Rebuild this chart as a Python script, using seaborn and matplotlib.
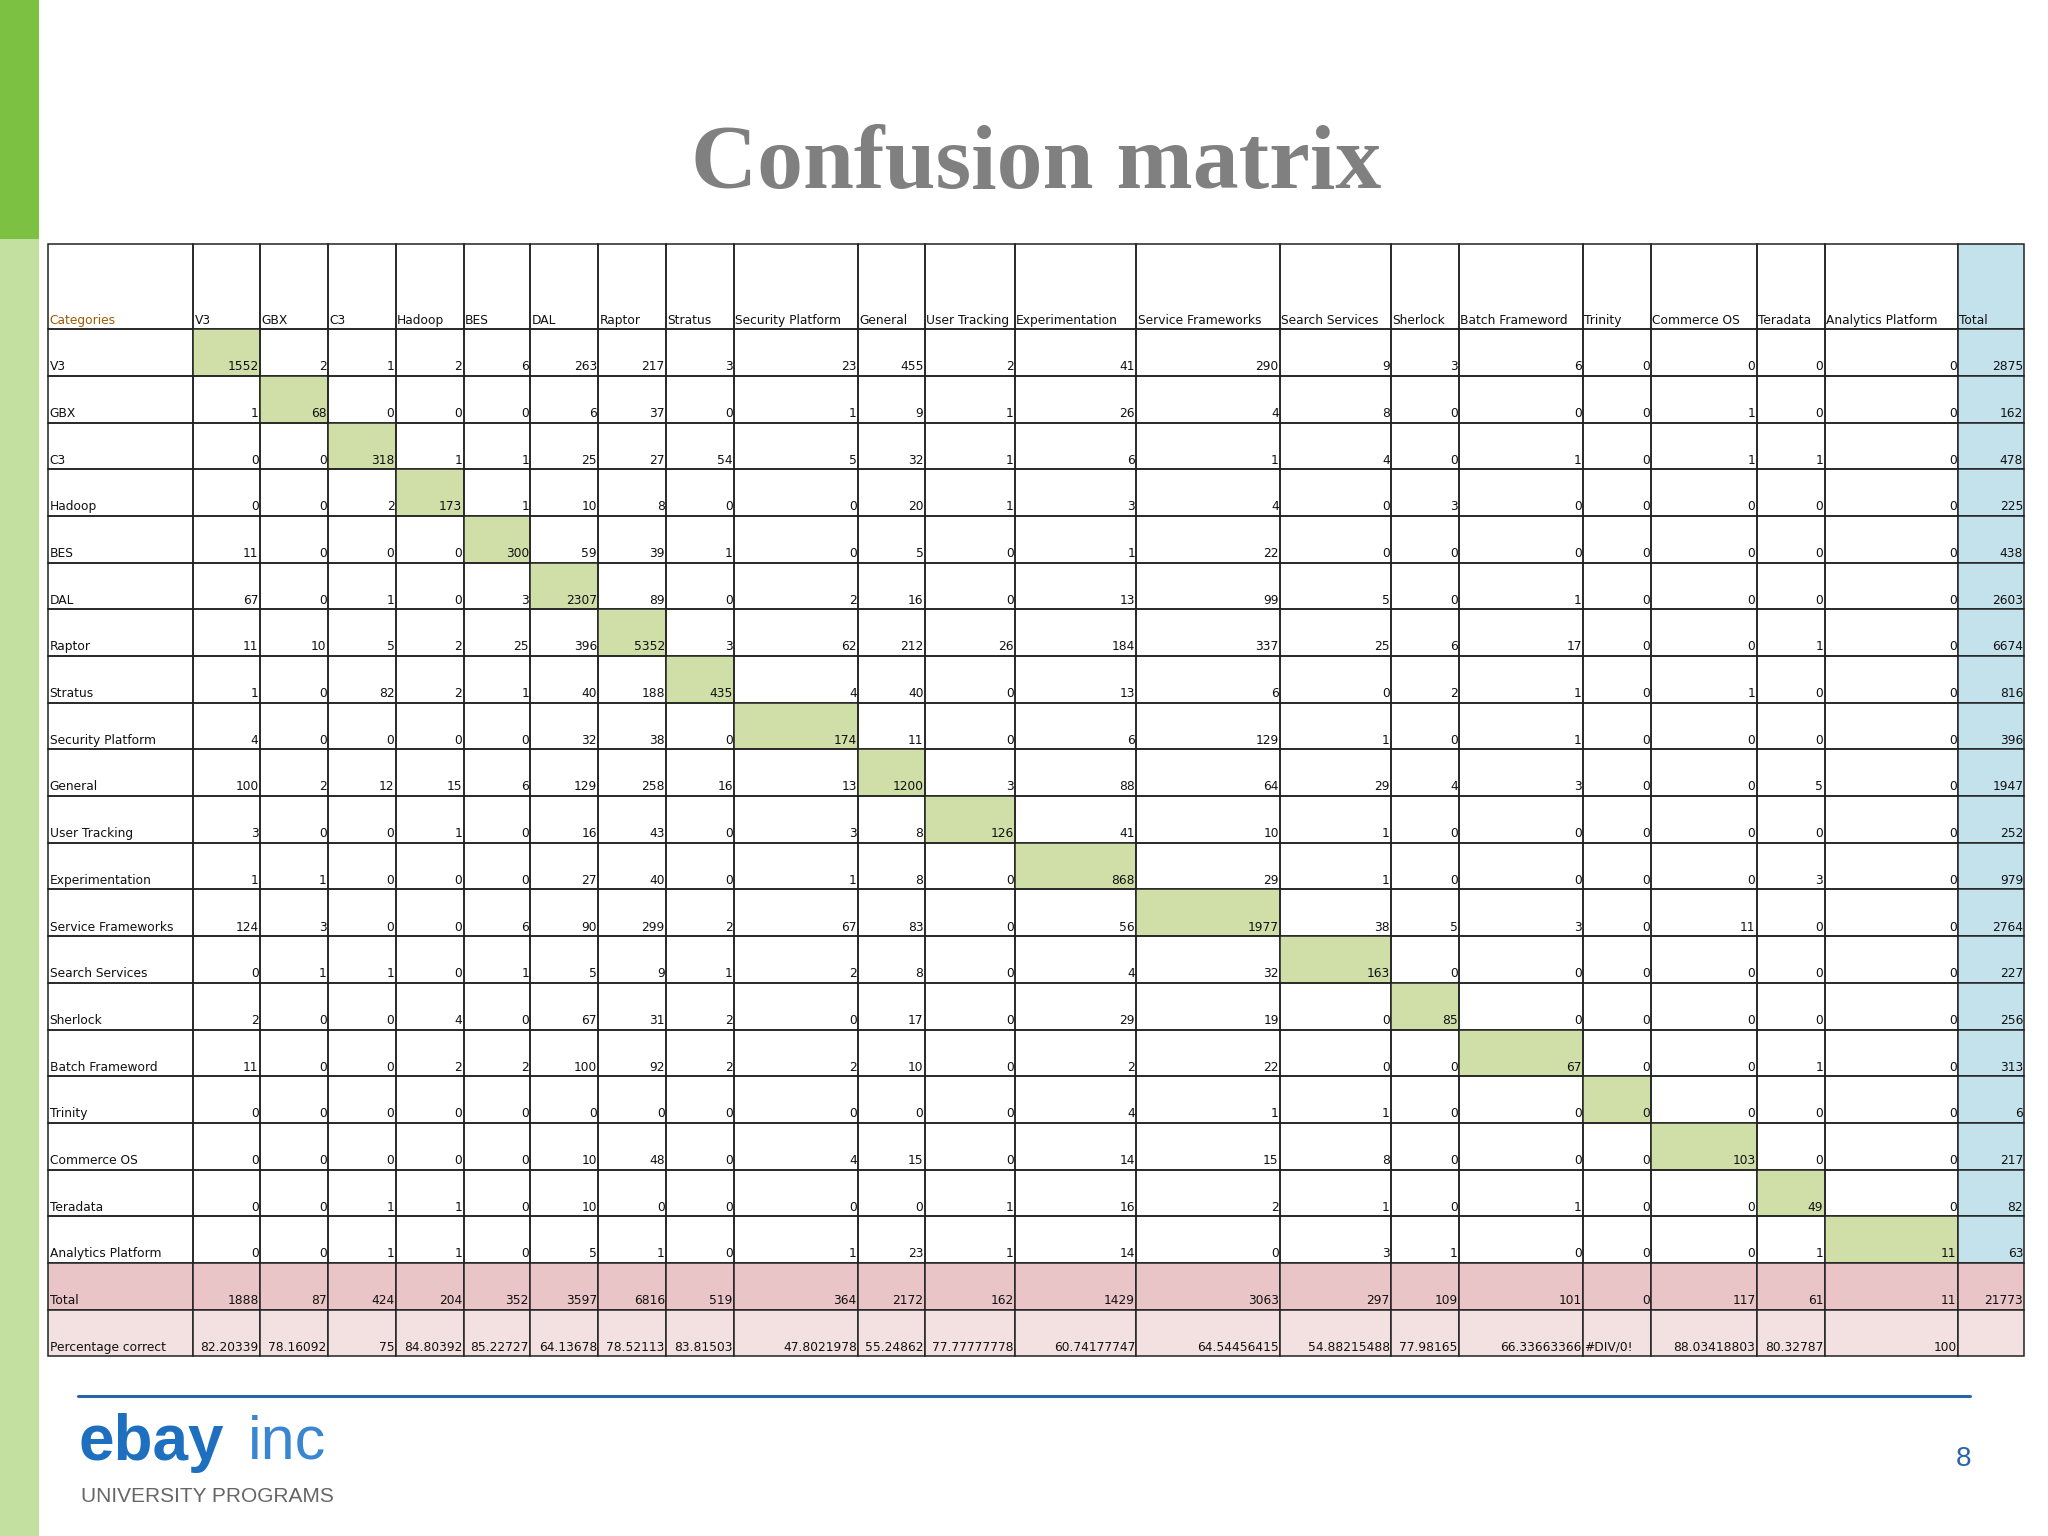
import matplotlib
matplotlib.use("Agg")
import matplotlib.pyplot as plt
import seaborn as sns
from matplotlib.patches import Rectangle

sns.set_theme(style="white")
plt.rcParams['font.family'] = ['Liberation Sans Narrow', 'DejaVu Sans']

# data
categories = ["V3", "GBX", "C3", "Hadoop", "BES", "DAL", "Raptor", "Stratus",
              "Security Platform", "General", "User Tracking", "Experimentation",
              "Service Frameworks", "Search Services", "Sherlock", "Batch Frameword",
              "Trinity", "Commerce OS", "Teradata", "Analytics Platform"]
matrix = [
    [1552, 2, 1, 2, 6, 263, 217, 3, 23, 455, 2, 41, 290, 9, 3, 6, 0, 0, 0, 0],
    [1, 68, 0, 0, 0, 6, 37, 0, 1, 9, 1, 26, 4, 8, 0, 0, 0, 1, 0, 0],
    [0, 0, 318, 1, 1, 25, 27, 54, 5, 32, 1, 6, 1, 4, 0, 1, 0, 1, 1, 0],
    [0, 0, 2, 173, 1, 10, 8, 0, 0, 20, 1, 3, 4, 0, 3, 0, 0, 0, 0, 0],
    [11, 0, 0, 0, 300, 59, 39, 1, 0, 5, 0, 1, 22, 0, 0, 0, 0, 0, 0, 0],
    [67, 0, 1, 0, 3, 2307, 89, 0, 2, 16, 0, 13, 99, 5, 0, 1, 0, 0, 0, 0],
    [11, 10, 5, 2, 25, 396, 5352, 3, 62, 212, 26, 184, 337, 25, 6, 17, 0, 0, 1, 0],
    [1, 0, 82, 2, 1, 40, 188, 435, 4, 40, 0, 13, 6, 0, 2, 1, 0, 1, 0, 0],
    [4, 0, 0, 0, 0, 32, 38, 0, 174, 11, 0, 6, 129, 1, 0, 1, 0, 0, 0, 0],
    [100, 2, 12, 15, 6, 129, 258, 16, 13, 1200, 3, 88, 64, 29, 4, 3, 0, 0, 5, 0],
    [3, 0, 0, 1, 0, 16, 43, 0, 3, 8, 126, 41, 10, 1, 0, 0, 0, 0, 0, 0],
    [1, 1, 0, 0, 0, 27, 40, 0, 1, 8, 0, 868, 29, 1, 0, 0, 0, 0, 3, 0],
    [124, 3, 0, 0, 6, 90, 299, 2, 67, 83, 0, 56, 1977, 38, 5, 3, 0, 11, 0, 0],
    [0, 1, 1, 0, 1, 5, 9, 1, 2, 8, 0, 4, 32, 163, 0, 0, 0, 0, 0, 0],
    [2, 0, 0, 4, 0, 67, 31, 2, 0, 17, 0, 29, 19, 0, 85, 0, 0, 0, 0, 0],
    [11, 0, 0, 2, 2, 100, 92, 2, 2, 10, 0, 2, 22, 0, 0, 67, 0, 0, 1, 0],
    [0, 0, 0, 0, 0, 0, 0, 0, 0, 0, 0, 4, 1, 1, 0, 0, 0, 0, 0, 0],
    [0, 0, 0, 0, 0, 10, 48, 0, 4, 15, 0, 14, 15, 8, 0, 0, 0, 103, 0, 0],
    [0, 0, 1, 1, 0, 10, 0, 0, 0, 0, 1, 16, 2, 1, 0, 1, 0, 0, 49, 0],
    [0, 0, 1, 1, 0, 5, 1, 0, 1, 23, 1, 14, 0, 3, 1, 0, 0, 0, 1, 11],
]
row_totals = [2875, 162, 478, 225, 438, 2603, 6674, 816, 396, 1947, 252, 979,
              2764, 227, 256, 313, 6, 217, 82, 63]
col_totals = [1888, 87, 424, 204, 352, 3597, 6816, 519, 364, 2172, 162, 1429,
              3063, 297, 109, 101, 0, 117, 61, 11]
grand_total = 21773
pct_correct = ["82.20339", "78.16092", "75", "84.80392", "85.22727", "64.13678",
               "78.52113", "83.81503", "47.8021978", "55.24862", "77.77777778",
               "60.74177747", "64.54456415", "54.88215488", "77.98165",
               "66.33663366", "#DIV/0!", "88.03418803", "80.32787", "100"]

# layout (slide pixel units, 1568 x 1176)
col_edges = [37, 148, 199, 251, 303, 355, 406, 458, 510, 562, 657, 708, 777,
             870, 980, 1065, 1117, 1212, 1264, 1345, 1397, 1499, 1550]
header_top, header_bot = 187, 252
row_h = (967 - 252) / 20

fig = plt.figure(figsize=(20.48, 15.36), dpi=100)
ax = fig.add_axes([0, 0, 1, 1])
ax.set_xlim(0, 1568)
ax.set_ylim(1176, 0)
ax.axis("off")

# side bars
ax.add_patch(Rectangle((0, 0), 30, 1176, color="#c3e0a0", lw=0))
ax.add_patch(Rectangle((0, 0), 30, 183, color="#7dc142", lw=0))

ax.text(793, 127, "Confusion matrix", ha="center", va="center", fontsize=66,
        fontweight="bold", color="#808080", family=["Liberation Serif", "DejaVu Serif"])

fs = 8.8
green, blue, pink, lpink = "#d0dfa8", "#c4e2ec", "#e9c5c7", "#f3e1e1"
n = len(categories)
row_edges = [header_bot + i * row_h for i in range(n + 3)]

def cell(x0, x1, y0, y1, color=None):
    ax.add_patch(Rectangle((x0, y0), x1 - x0, y1 - y0, facecolor=color or "none",
                           edgecolor="#222222", lw=1.1))

def rtext(x, y, s):
    ax.text(x - 1, y - 2, s, ha="right", va="bottom", fontsize=fs, color="#111111")

def ltext(x, y, s, color="#111111"):
    ax.text(x + 1, y - 2, s, ha="left", va="bottom", fontsize=fs, color=color)

# header row
for j in range(len(col_edges) - 1):
    c = blue if j == len(col_edges) - 2 else None
    cell(col_edges[j], col_edges[j + 1], header_top, header_bot, c)
ltext(col_edges[0], header_bot, "Categories", color="#9c5a00")
for j, name in enumerate(categories):
    ltext(col_edges[j + 1], header_bot, name)
ltext(col_edges[-2], header_bot, "Total")

# body
for i, name in enumerate(categories):
    y0, y1 = row_edges[i], row_edges[i + 1]
    cell(col_edges[0], col_edges[1], y0, y1)
    ltext(col_edges[0], y1, name)
    for j, v in enumerate(matrix[i]):
        cell(col_edges[j + 1], col_edges[j + 2], y0, y1, green if i == j else None)
        rtext(col_edges[j + 2], y1, str(v))
    cell(col_edges[-2], col_edges[-1], y0, y1, blue)
    rtext(col_edges[-1], y1, str(row_totals[i]))

# total row
y0, y1 = row_edges[n], row_edges[n + 1]
for j in range(len(col_edges) - 1):
    cell(col_edges[j], col_edges[j + 1], y0, y1, pink)
ltext(col_edges[0], y1, "Total")
for j, v in enumerate(col_totals):
    rtext(col_edges[j + 2], y1, str(v))
rtext(col_edges[-1], y1, str(grand_total))

# percentage row
y0, y1 = row_edges[n + 1], row_edges[n + 2]
for j in range(len(col_edges) - 1):
    cell(col_edges[j], col_edges[j + 1], y0, y1, lpink)
ltext(col_edges[0], y1, "Percentage correct")
for j, s in enumerate(pct_correct):
    if s.startswith("#"):
        ltext(col_edges[j + 1], y1, s)
    else:
        rtext(col_edges[j + 2], y1, s)

# footer
ax.plot([60, 1508], [1069, 1069], color="#2a64a8", lw=2.2)
ax.text(60, 1105, "ebay", ha="left", va="center", fontsize=46, color="#1f6fc0",
        family=["Liberation Sans", "DejaVu Sans"], fontweight="bold")
ax.text(190, 1105, "inc", ha="left", va="center", fontsize=44, color="#3a86d1",
        family=["Liberation Sans", "DejaVu Sans"])
ax.text(62, 1146, "UNIVERSITY PROGRAMS", ha="left", va="center", fontsize=15,
        color="#666666", family=["Liberation Sans", "DejaVu Sans"])
ax.text(1503, 1117, "8", ha="center", va="center", fontsize=20, color="#2a64a8",
        family=["Liberation Sans", "DejaVu Sans"])

fig.savefig("out.png", dpi=100, facecolor="white")
